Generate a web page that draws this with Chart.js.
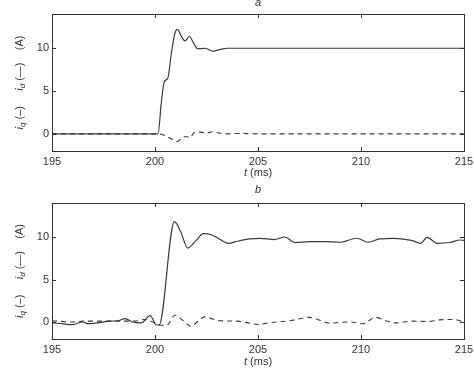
<!DOCTYPE html>
<html>
<head>
<meta charset="utf-8">
<script src="https://cdn.jsdelivr.net/npm/chart.js@4"></script>
<style>
  html, body { margin: 0; padding: 0; background: #fff; }
  #wrap { position: relative; width: 474px; height: 391px; overflow: hidden; }
  .box { position: absolute; left: 0; width: 474px; }
</style>
</head>
<body>
<div id="wrap">
  <div class="box" style="top:0;height:180px"><canvas id="chartA"></canvas></div>
  <div class="box" style="top:180px;height:211px"><canvas id="chartB"></canvas></div>
</div>
<script>
// panel a: step with smooth settling
const tIdA = [195, 200.15, 200.3, 200.45, 200.62, 200.8, 200.95, 201.08, 201.3, 201.46, 201.67, 201.85, 202.07, 202.25, 202.43, 202.6, 202.8, 203.0, 203.24, 203.5, 204, 215];
const idA = [0, 0, 3.5, 6.1, 6.5, 9.5, 11.6, 12.2, 11.3, 10.85, 11.4, 10.7, 9.96, 9.95, 10.0, 9.85, 9.65, 9.75, 9.9, 10, 10, 10];
const tIqA = [195, 200.2, 200.5, 200.8, 201.08, 201.3, 201.5, 201.7, 201.9, 202.2, 202.5, 202.8, 203.1, 203.5, 204, 205, 215];
const iqA = [0, 0, -0.2, -0.6, -0.9, -0.5, -0.3, -0.45, 0.15, 0.2, 0.1, 0.25, 0.1, 0.0, 0.05, 0, 0];

// panel b: noisy measurement
const tIdB = [195, 195.5, 196, 196.5, 196.75, 197.2, 197.8, 198.2, 198.55, 198.9, 199.35, 199.76, 200.08, 200.2, 200.94, 201.25, 201.59, 202.0, 202.35, 202.7, 203.1, 203.56, 204.0, 204.6, 205.1, 205.8, 206.3, 206.8, 207.5, 208.3, 208.98, 209.8, 210.35, 210.9, 211.57, 212.2, 212.5, 212.9, 213.2, 213.7, 214.3, 214.8, 215];
const idB = [-0.1, -0.2, -0.3, 0, -0.2, -0.1, 0.1, 0.15, 0.4, 0, -0.1, 0.75, -0.35, -0.35, 11.8, 10.6, 8.7, 9.6, 10.4, 10.3, 9.8, 9.25, 9.5, 9.77, 9.85, 9.7, 10.0, 9.35, 9.45, 9.45, 9.38, 9.85, 9.38, 9.77, 9.85, 9.7, 9.57, 9.26, 9.96, 9.26, 9.35, 9.65, 9.6];
const tIqB = [195, 196, 196.5, 197, 198, 199, 199.5, 199.8, 200.2, 200.57, 200.97, 201.35, 201.75, 202.1, 202.4, 202.8, 203.15, 204, 204.6, 205.0, 205.5, 206.55, 207.5, 208.0, 208.5, 209.0, 209.5, 210.1, 210.7, 211.2, 211.7, 212.5, 213.2, 213.8, 214.5, 215];
const iqB = [0.15, 0, 0.1, 0.1, 0.1, 0.1, 0.3, 0.1, -0.35, -0.4, 0.8, 0.2, -0.5, 0.1, 0.6, 0.35, 0.15, 0.1, -0.15, -0.3, -0.1, 0.15, 0.55, 0.2, -0.15, -0.05, 0, -0.2, 0.55, 0.15, -0.1, 0.1, 0.05, 0.25, 0.3, 0];

const xTicks = [195, 200, 205, 210, 215];
const yTicks = [0, 5, 10];

const FONT = "'Liberation Sans', Arial, sans-serif";
const INK = "#333";

function pts(xs, ys) {
  return xs.map((x, i) => ({ x: x, y: ys[i] }));
}

// draw a sequence of text pieces, each with its own font and baseline shift
function drawRich(ctx, parts, cx, cy, rotate) {
  ctx.save();
  ctx.translate(cx, cy);
  if (rotate) ctx.rotate(-Math.PI / 2);
  ctx.textBaseline = "middle";
  ctx.textAlign = "left";
  ctx.fillStyle = INK;
  let w = 0;
  parts.forEach((p) => { ctx.font = p.font; w += ctx.measureText(p.text).width; });
  let x = -w / 2;
  parts.forEach((p) => {
    ctx.font = p.font;
    ctx.fillText(p.text, x, p.dy || 0);
    x += ctx.measureText(p.text).width;
  });
  ctx.restore();
}

const yLabel = [
  { text: "i", font: "italic 11px " + FONT },
  { text: "q", font: "italic 8px " + FONT, dy: 3 },
  { text: " (\u2013)     ", font: "11px " + FONT },
  { text: "i", font: "italic 11px " + FONT },
  { text: "d", font: "italic 8px " + FONT, dy: 3 },
  { text: " (\u2014)    (A)", font: "11px " + FONT },
];
const xLabel = [
  { text: "t", font: "italic 11px " + FONT },
  { text: " (ms)", font: "11px " + FONT },
];

function framePlugin(title, titleY, xLabelY) {
  return {
    id: "frame",
    afterDraw(chart) {
      const ctx = chart.ctx;
      const a = chart.chartArea;
      const xs = chart.scales.x, ys = chart.scales.y;
      ctx.save();
      ctx.strokeStyle = INK;
      ctx.lineWidth = 1;
      ctx.strokeRect(Math.round(a.left) + 0.5, Math.round(a.top) + 0.5,
        Math.round(a.right - a.left), Math.round(a.bottom - a.top));
      ctx.beginPath();
      xTicks.forEach((v) => {
        const px = Math.round(xs.getPixelForValue(v)) + 0.5;
        ctx.moveTo(px, a.bottom); ctx.lineTo(px, a.bottom - 4);
        ctx.moveTo(px, a.top); ctx.lineTo(px, a.top + 4);
      });
      yTicks.forEach((v) => {
        const py = Math.round(ys.getPixelForValue(v)) + 0.5;
        ctx.moveTo(a.left, py); ctx.lineTo(a.left + 4, py);
        ctx.moveTo(a.right, py); ctx.lineTo(a.right - 4, py);
      });
      ctx.stroke();
      ctx.restore();
      const cx = (a.left + a.right) / 2;
      drawRich(ctx, [{ text: title, font: "italic 11px " + FONT }], cx, titleY, false);
      drawRich(ctx, xLabel, cx, xLabelY, false);
      drawRich(ctx, yLabel, 20, (a.top + a.bottom) / 2, true);
    },
  };
}

function makeChart(id, idData, iqData, padTop, xHeight, title, titleY, xLabelY) {
  return new Chart(document.getElementById(id), {
    type: "line",
    data: {
      datasets: [
        {
          data: idData, borderColor: "#3a3a3a", borderWidth: 1.2,
          pointRadius: 0, cubicInterpolationMode: "monotone", fill: false,
        },
        {
          data: iqData, borderColor: "#3a3a3a", borderWidth: 1.1, borderDash: [5, 4],
          pointRadius: 0, cubicInterpolationMode: "monotone", fill: false,
        },
      ],
    },
    options: {
      responsive: true,
      maintainAspectRatio: false,
      animation: false,
      events: [],
      layout: { padding: { top: padTop, right: 10, left: 0, bottom: 0 } },
      plugins: { legend: { display: false }, tooltip: { enabled: false } },
      scales: {
        x: {
          type: "linear", min: 195, max: 215,
          afterBuildTicks: (s) => { s.ticks = xTicks.map((v) => ({ value: v })); },
          afterFit: (s) => { s.height = xHeight; s.paddingLeft = 0; s.paddingRight = 0; },
          grid: { display: false, drawTicks: false },
          border: { display: false },
          ticks: { padding: 4, maxRotation: 0, color: INK, font: { family: FONT, size: 11 } },
        },
        y: {
          type: "linear", min: -2, max: 14,
          afterBuildTicks: (s) => { s.ticks = yTicks.map((v) => ({ value: v })); },
          afterFit: (s) => { s.width = 52; },
          grid: { display: false, drawTicks: false },
          border: { display: false },
          ticks: { padding: 3, color: INK, font: { family: FONT, size: 11 } },
        },
      },
    },
    plugins: [framePlugin(title, titleY, xLabelY)],
  });
}

makeChart("chartA", pts(tIdA, idA), pts(tIqA, iqA), 14, 29, "a", 3, 173);
makeChart("chartB", pts(tIdB, idB), pts(tIqB, iqB), 23, 52, "b", 10, 182);
</script>
</body>
</html>
